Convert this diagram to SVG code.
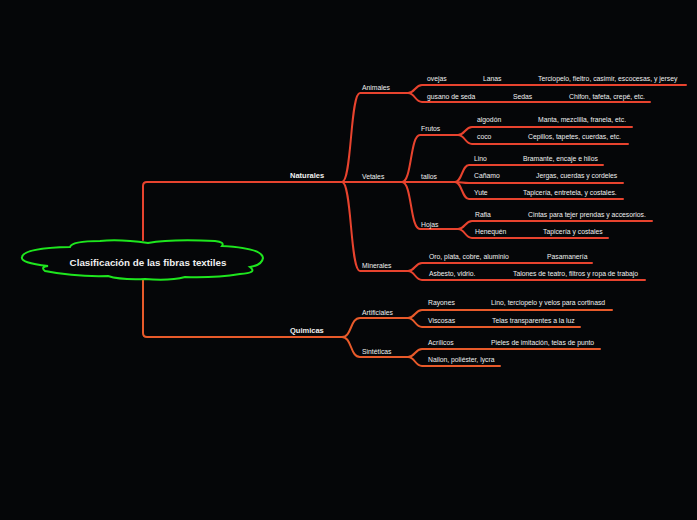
<svg xmlns="http://www.w3.org/2000/svg" width="697" height="520" viewBox="0 0 697 520">
<style>
.n{stroke:#e8432e;stroke-width:2;fill:none;stroke-linecap:round}
.q{stroke:#e85a2a;stroke-width:2;fill:none;stroke-linecap:round}
text{font-family:"Liberation Sans",Arial,sans-serif;font-size:6.8px;fill:#f0f0f0}
.b{font-weight:bold;font-size:7.5px}
</style>
<rect width="697" height="520" fill="#050608"/>
<g id="connectors">
<path class="n" d="M342,182 H147 Q143,182 143,186 V240"/>
<path class="q" d="M342,337 H147 Q143,337 143,333 V280"/>
<path class="n" d="M342,182 C352,182 350,93 360,93 H408"/>
<path class="n" d="M408,93 C415,93 415,85 422,85 H686"/>
<path class="n" d="M408,93 C415,93 415,102 422,102 H650"/>
<path class="n" d="M342,182 H402"/>
<path class="n" d="M402,182 C412,182 410,135 420,135 H458"/>
<path class="n" d="M458,135 C465,135 465,127 472,127 H632"/>
<path class="n" d="M458,135 C465,135 465,144 472,144 H628"/>
<path class="n" d="M402,182 H455"/>
<path class="n" d="M455,182 C462,182 462,165 469,165 H603"/>
<path class="n" d="M455,182 C462,182 462,183 469,183 H623"/>
<path class="n" d="M455,182 C462,182 462,199 469,199 H623"/>
<path class="n" d="M402,182 C412,182 410,229 420,229 H458"/>
<path class="n" d="M458,229 C465,229 465,221 472,221 H652"/>
<path class="n" d="M458,229 C465,229 465,238 472,238 H608"/>
<path class="n" d="M342,182 C352,182 350,271 360,271 H408"/>
<path class="n" d="M408,271 C415,271 415,263 422,263 H592"/>
<path class="n" d="M408,271 C415,271 415,280 422,280 H645"/>
<path class="q" d="M342,337 C352,337 350,318 360,318 H408"/>
<path class="q" d="M408,318 C415,318 415,310 422,310 H612"/>
<path class="q" d="M408,318 C415,318 415,327 422,327 H580"/>
<path class="q" d="M342,337 C352,337 350,357 360,357 H408"/>
<path class="q" d="M408,357 C415,357 415,349 422,349 H600"/>
<path class="q" d="M408,357 C415,357 415,366 422,366 H500"/>
</g>
<g id="root">
<path d="M22,257 Q24,248 70,247 Q72,241 100,241 Q120,239 148,243 Q170,239 215,241 Q225,242 222,246 Q262,248 263,258 Q262,265 250,267 Q258,273 240,274 Q215,278 185,277 Q170,281 145,279 Q120,280 108,276 Q75,277 45,271 Q40,267 48,266 Q20,263 22,257 Z" fill="#050608" stroke="#1ee61e" stroke-width="2"/>
<text x="148" y="266" text-anchor="middle" style="font-size:9.8px;font-weight:bold">Clasificación de las fibras textiles</text>
</g>
<g id="naturales"><text class="b" x="290" y="178">Naturales</text></g>
<g id="quimicas"><text class="b" x="290" y="333">Quimicas</text></g>
<g id="animales"><text x="362" y="90">Animales</text></g>
<g id="ovejas"><text x="427" y="81">ovejas</text><text x="483" y="81">Lanas</text><text x="538" y="81">Terciopelo, fieltro, casimir, escocesas, y jersey</text></g>
<g id="gusano"><text x="427" y="99">gusano de seda</text><text x="513" y="99">Sedas</text><text x="569" y="99">Chifon, tafeta, crepé, etc.</text></g>
<g id="vetales"><text x="362" y="179">Vetales</text></g>
<g id="frutos"><text x="421" y="131">Frutos</text></g>
<g id="algodon"><text x="477" y="122">algodón</text><text x="538" y="122">Manta, mezclilla, franela, etc.</text></g>
<g id="coco"><text x="477" y="139">coco</text><text x="528" y="139">Cepillos, tapetes, cuerdas, etc.</text></g>
<g id="tallos"><text x="421" y="179">tallos</text></g>
<g id="lino"><text x="474" y="161">Lino</text><text x="523" y="161">Bramante, encaje e hilos</text></g>
<g id="canamo"><text x="474" y="178">Cañamo</text><text x="536" y="178">Jergas, cuerdas y cordeles</text></g>
<g id="yute"><text x="474" y="195">Yute</text><text x="523" y="195">Tapicería, entretela, y costales.</text></g>
<g id="hojas"><text x="421" y="227">Hojas</text></g>
<g id="rafia"><text x="475" y="217">Rafia</text><text x="528" y="217">Cintas para tejer prendas y accesorios.</text></g>
<g id="henequen"><text x="475" y="234">Henequén</text><text x="543" y="234">Tapicería y costales</text></g>
<g id="minerales"><text x="362" y="268">Minerales</text></g>
<g id="oro"><text x="429" y="259">Oro, plata, cobre, aluminio</text><text x="547" y="259">Pasamanería</text></g>
<g id="asbesto"><text x="429" y="276">Asbesto, vidrio.</text><text x="513" y="276">Talones de teatro, filtros y ropa de trabajo</text></g>
<g id="artificiales"><text x="362" y="315">Artificiales</text></g>
<g id="rayones"><text x="428" y="305">Rayones</text><text x="491" y="305">Lino, terciopelo y velos para cortinasd</text></g>
<g id="viscosas"><text x="428" y="323">Viscosas</text><text x="492" y="323">Telas transparentes a la luz</text></g>
<g id="sinteticas"><text x="362" y="354">Sintéticas</text></g>
<g id="acrilicos"><text x="428" y="345">Acrílicos</text><text x="491" y="345">Pieles de imitación, telas de punto</text></g>
<g id="nailon"><text x="428" y="362">Nailon, poliéster, lycra</text></g>
</svg>
